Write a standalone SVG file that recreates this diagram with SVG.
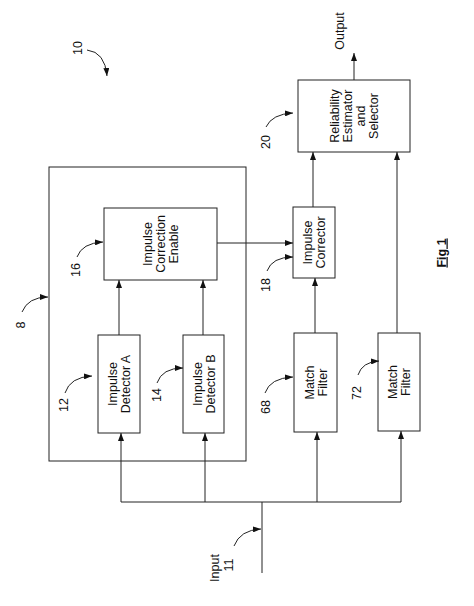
<svg xmlns="http://www.w3.org/2000/svg" width="474" height="606" viewBox="0 0 474 606">
<defs>
<style>
.box{fill:#fff;stroke:#222;stroke-width:1}
.frame{fill:none;stroke:#222;stroke-width:1}
.ln{fill:none;stroke:#222;stroke-width:1}
.t{font-family:"Liberation Sans",Arial,sans-serif;font-size:12.5px;fill:#111;text-anchor:middle}
.fig{font-weight:bold;text-decoration:underline}
</style>
<marker id="ah" viewBox="0 0 8 6" refX="8" refY="3" markerWidth="8" markerHeight="6" orient="auto" markerUnits="userSpaceOnUse"><path d="M0,0 L8,3 L0,6 z" fill="#111"/></marker>
</defs>
<rect width="474" height="606" fill="#fff"/>

<g id="n8"><rect class="frame" x="49" y="167" width="197" height="294"/></g>

<g id="n20"><rect class="box" x="298" y="80" width="112" height="72"/>
<text class="t" transform="translate(354,116) rotate(-90)"><tspan x="0" y="-15">Reliability</tspan><tspan x="0" y="-2">Estimator</tspan><tspan x="0" y="11">and</tspan><tspan x="0" y="24">Selector</tspan></text></g>

<g id="n16"><rect class="box" x="104" y="208" width="113" height="72"/>
<text class="t" transform="translate(160.5,244) rotate(-90)"><tspan x="0" y="-8.5">Impulse</tspan><tspan x="0" y="4.5">Correction</tspan><tspan x="0" y="17.5">Enable</tspan></text></g>

<g id="n18"><rect class="box" x="293" y="207" width="42" height="71"/>
<text class="t" transform="translate(314,242.5) rotate(-90)"><tspan x="0" y="-2">Impulse</tspan><tspan x="0" y="11">Corrector</tspan></text></g>

<g id="n12"><rect class="box" x="98" y="335" width="42" height="98"/>
<text class="t" transform="translate(119,384) rotate(-90)"><tspan x="0" y="-2">Impulse</tspan><tspan x="0" y="11">Detector A</tspan></text></g>

<g id="n14"><rect class="box" x="183" y="335" width="41" height="98"/>
<text class="t" transform="translate(203.5,384) rotate(-90)"><tspan x="0" y="-2">Impulse</tspan><tspan x="0" y="11">Detector B</tspan></text></g>

<g id="n68"><rect class="box" x="294" y="333" width="43" height="99"/>
<text class="t" transform="translate(315.5,382.5) rotate(-90)"><tspan x="0" y="-2">Match</tspan><tspan x="0" y="11">Filter</tspan></text></g>

<g id="n72"><rect class="box" x="378" y="333" width="42" height="98"/>
<text class="t" transform="translate(399,382) rotate(-90)"><tspan x="0" y="-2">Match</tspan><tspan x="0" y="11">Filter</tspan></text></g>

<g id="connectors">
<line class="ln" x1="354" y1="80" x2="354" y2="53" marker-end="url(#ah)"/>
<line class="ln" x1="313" y1="207" x2="313" y2="152" marker-end="url(#ah)"/>
<line class="ln" x1="397" y1="333" x2="397" y2="152" marker-end="url(#ah)"/>
<line class="ln" x1="119" y1="335" x2="119" y2="280" marker-end="url(#ah)"/>
<line class="ln" x1="203" y1="335" x2="203" y2="280" marker-end="url(#ah)"/>
<line class="ln" x1="217" y1="243" x2="293" y2="243" marker-end="url(#ah)"/>
<line class="ln" x1="315" y1="333" x2="315" y2="278" marker-end="url(#ah)"/>
<line class="ln" x1="121" y1="502" x2="401" y2="502"/>
<line class="ln" x1="121" y1="502" x2="121" y2="433" marker-end="url(#ah)"/>
<line class="ln" x1="205" y1="502" x2="205" y2="433" marker-end="url(#ah)"/>
<line class="ln" x1="317" y1="502" x2="317" y2="432" marker-end="url(#ah)"/>
<line class="ln" x1="401" y1="502" x2="401" y2="431" marker-end="url(#ah)"/>
<line class="ln" x1="262" y1="502" x2="262" y2="573"/>
<path class="ln" d="M87,50 Q105,52 107,76" marker-end="url(#ah)"/>
<path class="ln" d="M266,127 Q272,114 293,113" marker-end="url(#ah)"/>
<path class="ln" d="M77,257 Q82,243 103,242" marker-end="url(#ah)"/>
<path class="ln" d="M22,312 Q28,297 48,297" marker-end="url(#ah)"/>
<path class="ln" d="M267,271 Q272,257 293,257" marker-end="url(#ah)"/>
<path class="ln" d="M65,393 Q70,377 92,376" marker-end="url(#ah)"/>
<path class="ln" d="M157,383 Q162,368 183,368" marker-end="url(#ah)"/>
<path class="ln" d="M265,393 Q270,378 293,377" marker-end="url(#ah)"/>
<path class="ln" d="M358,375 Q362,362 379,361" marker-end="url(#ah)"/>
<path class="ln" d="M234,546 Q240,530 261,529" marker-end="url(#ah)"/>
</g>

<g id="labels">
<text class="t" transform="translate(339,31) rotate(-90)" y="4.5">Output</text>
<text class="t" transform="translate(77,48) rotate(-90)" y="4.5">10</text>
<text class="t" transform="translate(265,142) rotate(-90)" y="4.5">20</text>
<text class="t" transform="translate(75,270) rotate(-90)" y="4.5">16</text>
<text class="t" transform="translate(20,325) rotate(-90)" y="4.5">8</text>
<text class="t" transform="translate(265,285) rotate(-90)" y="4.5">18</text>
<text class="t" transform="translate(63,405) rotate(-90)" y="4.5">12</text>
<text class="t" transform="translate(156,395) rotate(-90)" y="4.5">14</text>
<text class="t" transform="translate(265,407) rotate(-90)" y="4.5">68</text>
<text class="t" transform="translate(356,393) rotate(-90)" y="4.5">72</text>
<text class="t" transform="translate(214,568) rotate(-90)" y="4.5">Input</text>
<text class="t" transform="translate(228,565) rotate(-90)" y="4.5">11</text>
<text class="t fig" transform="translate(441,253) rotate(-90)" y="4.5">Fig 1</text>
</g>
</svg>
